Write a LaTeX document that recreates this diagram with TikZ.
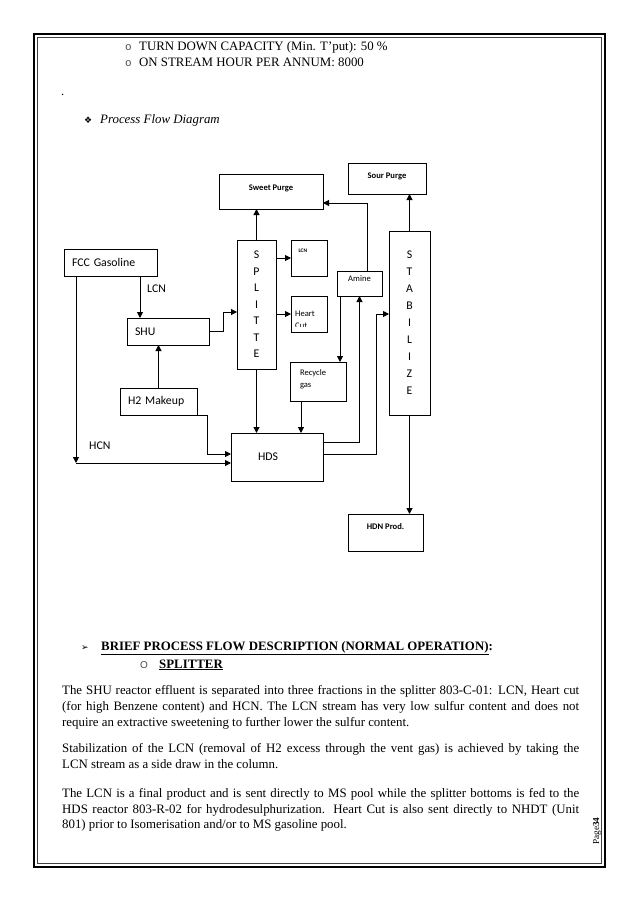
\documentclass[tikz,border=0pt]{standalone}
\usepackage{fontspec}
\setmainfont{Liberation Serif}
\newfontfamily\calibri{Carlito}
\newfontfamily\dingfont{DejaVu Sans}
\newfontfamily\couriernew{Liberation Mono}
\newfontfamily\arialfont{Liberation Sans}
\usetikzlibrary{arrows.meta}
\begin{document}
\begin{tikzpicture}
[
x = 1pt, y = -1pt,
blk/.style = {draw, line width=1pt, inner sep=0pt, outer sep=0pt},
big/.style = {font=\calibri\fontsize{11.79}{16.5}\selectfont},
small/.style = {font=\calibri\fontsize{8.57}{12}\selectfont},
smallbold/.style = {font=\calibri\bfseries\fontsize{8.57}{12}\selectfont},
flow/.style = {line width=1pt, -{Triangle[length=6pt,width=6pt]}},
body/.style = {anchor=base west, inner sep=0pt, font=\fontsize{12.86}{15.5}\selectfont}
]
\fill [white] (0,0) rectangle (638,902);
\useasboundingbox (0,0) rectangle (638,902);
\draw [line width=2.4pt] (34.2,34.2) rectangle (604.8,867);
\draw [line width=0.9pt, black!75] (37.8,37.8) rectangle (601.2,863.4);

\node [body, font=\couriernew\fontsize{11}{13}\selectfont, black!70] (bul1) at (125,50) {o};
\node [body] (turn) at (139,50) {TURN DOWN CAPACITY (Min. T’put): 50 \%};
\node [body, font=\couriernew\fontsize{11}{13}\selectfont, black!70] (bul2) at (125,66) {o};
\node [body] (stream) at (139,66) {ON STREAM HOUR PER ANNUM: 8000};
\node [body] (dot) at (61,95) {.};
\node [body, font=\dingfont\fontsize{9}{10}\selectfont] (bul3) at (84,123) {❖};
\node [body, font=\itshape\fontsize{12.86}{15.5}\selectfont] (pfd) at (100,123) {Process Flow Diagram};

\node [blk, big, minimum width=93pt, minimum height=27pt, text width=77pt, align=left, inner xsep=8pt] (fcc) at (110.5,262.5) {FCC Gasoline};
\node [blk, big, minimum width=82pt, minimum height=27pt, text width=66pt, align=left, inner xsep=8pt] (shu) at (168,331.5) {SHU};
\node [blk, big, minimum width=77pt, minimum height=27pt, text width=61pt, align=left, inner xsep=8pt] (h2) at (158.5,401.5) {H2 Makeup};
\node [blk, big, minimum width=92pt, minimum height=48pt, text width=38pt, align=left, inner xsep=27pt] (hds) at (277,457) {HDS};
\node [blk, big, minimum width=39pt, minimum height=129pt, align=center] (spl) at (256.5,304.5) {S\\P\\L\\I\\T\\T\\E};
\node [blk, font=\calibri\fontsize{11.79}{17}\selectfont, minimum width=41pt, minimum height=184pt, align=center] (stab) at (409.5,323) {S\\T\\A\\B\\I\\L\\I\\Z\\E};
\node [blk, smallbold, minimum width=104pt, text height=16pt, text depth=19pt] (sweet) at (271,191.5) {Sweet Purge};
\node [blk, smallbold, minimum width=78pt, text height=15pt, text depth=16pt] (sour) at (387,178.5) {Sour Purge};
\node [blk, smallbold, minimum width=75pt, text height=15pt, text depth=22pt] (hdn) at (385.5,532.5) {HDN Prod.};
\node [blk, small, minimum width=45pt, text height=10pt, text depth=15pt] (amine) at (359.5,283.5) {Amine};
\node [blk, font=\calibri\bfseries\fontsize{5.4}{6}\selectfont, minimum width=36pt, text width=21pt, align=left, inner xsep=7.5pt, text height=12pt, text depth=24pt] (lcnbox) at (309,258) {LCN};
\node [blk, minimum width=36pt, minimum height=36pt] (heart) at (309,314) {};
\begin{scope}
\clip ([yshift=5.5pt]heart.south west) rectangle (heart.north east);
\node [small, font=\calibri\fontsize{8.57}{12.5}\selectfont, anchor=base west, inner sep=0pt, align=left] (heartlbl) at (295,328.5) {Heart\\Cut};
\end{scope}
\node [blk, small, minimum width=56pt, text width=36pt, align=left, inner xsep=10pt, text height=13pt, text depth=26pt] (rec) at (318,381.5) {Recycle\\gas};

\node [big, anchor=base west, inner sep=0pt] (lcnlbl) at (147,292) {LCN};
\node [big, anchor=base west, inner sep=0pt] (hcnlbl) at (89,449) {HCN};

\coordinate (lcnin) at ([xshift=13pt]shu.north west);
\coordinate (hcnbend) at (76,463);
\coordinate (recout) at ([xshift=-17pt]rec.south);
\coordinate (aminedown) at ([xshift=3pt]amine.south west);

\draw [flow] (fcc.south -| lcnin) -- (lcnin);
\draw [flow] (shu.east) -- ++(14,0) |- ([yshift=-7.5pt]spl.west);
\draw [flow] (h2.north) -- (h2.north |- shu.south);
\draw [flow] (h2.south east) -- ++(10,0) |- ([yshift=3pt]hds.west);
\draw [flow] (fcc.south -| hcnbend) -- (hcnbend);
\draw [flow] (hcnbend) -- (hcnbend -| hds.west);
\draw [flow] (spl.north) -- (spl.north |- sweet.south);
\draw [flow] (spl.east |- lcnbox.west) -- (lcnbox.west);
\draw [flow] (spl.east |- heart.west) -- (heart.west);
\draw [flow] (spl.south) -- (spl.south |- hds.north);
\draw [flow] (recout) -- (recout |- hds.north);
\draw [flow] (aminedown) -- (aminedown |- rec.north);
\draw [flow] ([xshift=7.5pt]amine.north) |- ([yshift=-11.5pt]sweet.east);
\draw [flow] ([yshift=15pt]hds.east) -| (amine.south);
\draw [flow] ([yshift=3pt]hds.east) -- ++(53,0) |- ([yshift=9pt]stab.west);
\draw [flow] (stab.north) -- (stab.north |- sour.south);
\draw [flow] (stab.south) -- (stab.south |- hdn.north);

\node [body, font=\dingfont\fontsize{9}{10}\selectfont] (bul4) at (81,650) {➢};
\node [body, font=\bfseries\fontsize{12.86}{15.5}\selectfont] (brief) at (101,650) {\underline{BRIEF PROCESS FLOW DESCRIPTION (NORMAL OPERATION)}:};
\node [body, font=\arialfont\fontsize{10}{12}\selectfont, black!70] (bul5) at (140,668) {O};
\node [body, font=\bfseries\fontsize{12.86}{15.5}\selectfont] (splitter) at (159,668) {\underline{SPLITTER}};

\node [body] (p1a) at (62,694) {\makebox[517pt][s]{The SHU reactor effluent is separated into three fractions in the splitter 803-C-01: LCN, Heart cut}};
\node [body] (p1b) at (62,710) {\makebox[517pt][s]{(for high Benzene content) and HCN. The LCN stream has very low sulfur content and does not}};
\node [body] (p1c) at (62,726) {require an extractive sweetening to further lower the sulfur content.};
\node [body] (p2a) at (62,752) {\makebox[517pt][s]{Stabilization of the LCN (removal of H2 excess through the vent gas) is achieved by taking the}};
\node [body] (p2b) at (62,768) {LCN stream as a side draw in the column.};
\node [body] (p3a) at (62,797) {\makebox[517pt][s]{The LCN is a final product and is sent directly to MS pool while the splitter bottoms is fed to the}};
\node [body] (p3b) at (62,813) {\makebox[517pt][s]{HDS reactor 803-R-02 for hydrodesulphurization. Heart Cut is also sent directly to NHDT (Unit}};
\node [body] (p3c) at (62,828) {801) prior to Isomerisation and/or to MS gasoline pool.};

\node [rotate=90, inner sep=0pt, font=\fontsize{9.2}{10}\selectfont] (page) at (597,831) {Page\textbf{34}};
\end{tikzpicture}
\end{document}
